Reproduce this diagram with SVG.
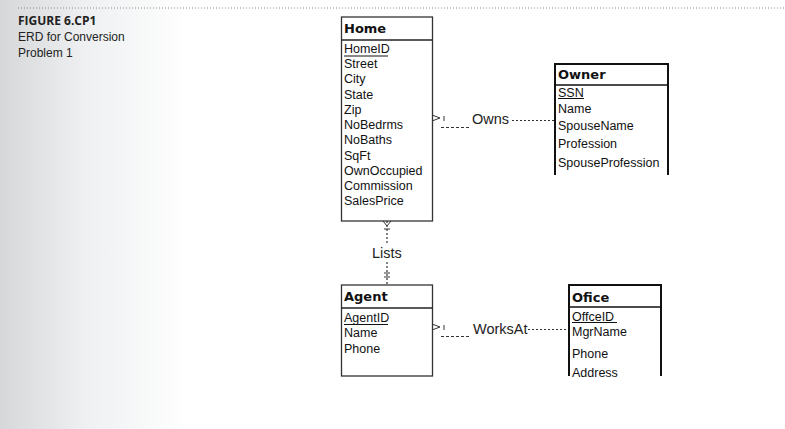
<svg xmlns="http://www.w3.org/2000/svg" width="785" height="429" viewBox="0 0 785 429">
<defs>
<linearGradient id="bg" x1="0" y1="0" x2="1" y2="0">
<stop offset="0" stop-color="#d6d7d9"/>
<stop offset="0.45" stop-color="#eef0f1"/>
<stop offset="1" stop-color="#ffffff"/>
</linearGradient>
<style>
.t{font-family:"Liberation Sans",Arial,sans-serif;font-size:12.5px;fill:#111}
.h{font-family:"DejaVu Sans","Liberation Sans",sans-serif;font-weight:bold;font-size:13px;fill:#111}
.lbl{font-family:"Liberation Sans",Arial,sans-serif;font-size:14.5px;fill:#222}
.box{fill:#fff;stroke:#333;stroke-width:1.3}
.thick{fill:none;stroke:#111;stroke-width:2}
.ul{stroke:#111;stroke-width:1}
.dash{fill:none;stroke:#333;stroke-width:1;stroke-dasharray:3 2}
.dot{fill:none;stroke:#333;stroke-width:1.2;stroke-dasharray:2 2}
.mk{fill:none;stroke:#333;stroke-width:1}
</style>
</defs>
<rect x="0" y="0" width="785" height="429" fill="#fff"/>
<rect x="0" y="0" width="190" height="429" fill="url(#bg)"/>
<line x1="18" y1="8" x2="785" y2="8" stroke="#8a8a8a" stroke-width="1" stroke-dasharray="1 2"/>
<text x="18" y="25" style="font-family:'Open Sans','DejaVu Sans',sans-serif;font-weight:bold;font-size:12px;fill:#222">FIGURE 6.CP1</text>
<text x="18" y="41" style="font-family:'Liberation Sans',Arial,sans-serif;font-size:12px;fill:#222">ERD for Conversion</text>
<text x="18" y="57" style="font-family:'Liberation Sans',Arial,sans-serif;font-size:12px;fill:#222">Problem 1</text>

<g id="connectors">
<!-- Owns -->
<path class="mk" d="M432,115 L440,118 L432,121"/>
<line class="mk" x1="444" y1="116" x2="444" y2="121"/>
<line class="dash" x1="441" y1="127.5" x2="470" y2="127.5"/>
<text class="lbl" x="472" y="124">Owns</text>
<line class="dot" x1="512" y1="120.5" x2="554" y2="120.5"/>
<!-- Lists -->
<path class="mk" d="M383,221 L387,226 L391,221"/>
<line class="mk" x1="384" y1="229" x2="390" y2="229"/>
<line class="dot" x1="387" y1="221" x2="387" y2="244"/>
<text class="lbl" x="372" y="258">Lists</text>
<line class="dot" x1="387" y1="262" x2="387" y2="285"/>
<line class="mk" x1="384" y1="273" x2="390" y2="273"/>
<line class="mk" x1="384" y1="277" x2="390" y2="277"/>
<!-- WorksAt -->
<path class="mk" d="M432,324 L440,327 L432,330"/>
<line class="mk" x1="444" y1="325" x2="444" y2="330"/>
<line class="dash" x1="441" y1="336.5" x2="470" y2="336.5"/>
<text class="lbl" x="473" y="334">WorksAt</text>
<line class="dot" x1="528" y1="329.5" x2="568" y2="329.5"/>
</g>

<g id="home">
<rect class="box" x="341.5" y="17" width="91" height="204"/>
<line stroke="#222" stroke-width="1.5" x1="341.5" y1="40" x2="432.5" y2="40"/>
<text class="h" x="344" y="33">Home</text>
<text class="t" x="344" y="52.5">HomeID</text>
<line class="ul" x1="344" y1="56" x2="388" y2="56"/>
<text class="t" x="344" y="68">Street</text>
<text class="t" x="344" y="83">City</text>
<text class="t" x="344" y="98.5">State</text>
<text class="t" x="344" y="114">Zip</text>
<text class="t" x="344" y="129">NoBedrms</text>
<text class="t" x="344" y="144">NoBaths</text>
<text class="t" x="344" y="159.5">SqFt</text>
<text class="t" x="344" y="174.5">OwnOccupied</text>
<text class="t" x="344" y="189.5">Commission</text>
<text class="t" x="344" y="205">SalesPrice</text>
</g>

<g id="owner">
<path class="thick" d="M555,175 V64 H668 V175"/>
<line stroke="#111" stroke-width="1.5" x1="555" y1="85" x2="668" y2="85"/>
<text class="h" x="558" y="79">Owner</text>
<text class="t" x="558" y="96.5">SSN</text>
<line class="ul" x1="558" y1="98.5" x2="584" y2="98.5"/>
<text class="t" x="558" y="112.5">Name</text>
<text class="t" x="558" y="129.5">SpouseName</text>
<text class="t" x="558" y="147.5">Profession</text>
<text class="t" x="558" y="166.5">SpouseProfession</text>
</g>

<g id="agent">
<rect class="box" x="341.5" y="285" width="91" height="91"/>
<line stroke="#222" stroke-width="1.5" x1="341.5" y1="308" x2="432.5" y2="308"/>
<text class="h" x="344" y="301">Agent</text>
<text class="t" x="344" y="321.5">AgentID</text>
<line class="ul" x1="344" y1="324.5" x2="388" y2="324.5"/>
<text class="t" x="344" y="337">Name</text>
<text class="t" x="344" y="352.5">Phone</text>
</g>

<g id="ofice">
<path class="thick" d="M569,376 V285 H661 V376"/>
<line stroke="#111" stroke-width="1.5" x1="569" y1="307" x2="661" y2="307"/>
<text class="h" x="572" y="302">Ofice</text>
<text class="t" x="572" y="320.5">OffceID</text>
<line class="ul" x1="572" y1="322.5" x2="617" y2="322.5"/>
<text class="t" x="572" y="335.5">MgrName</text>
<text class="t" x="572" y="357.5">Phone</text>
<text class="t" x="572" y="377">Address</text>
</g>
</svg>
